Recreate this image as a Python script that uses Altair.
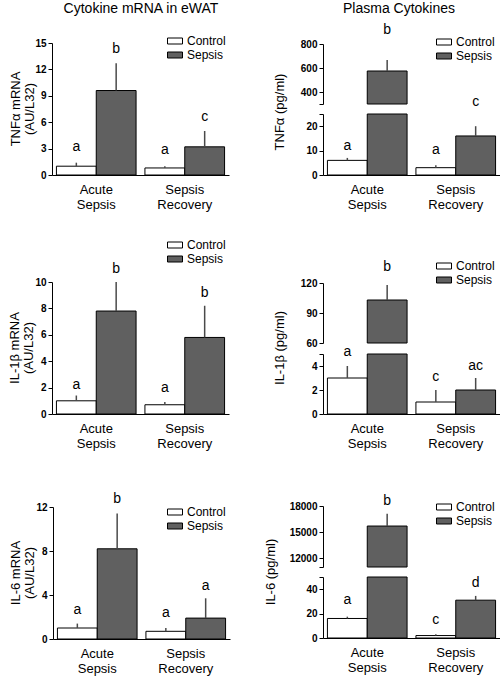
import altair as alt
import pandas as pd

FONT = "Liberation Sans"
SEPSIS_GREY = "#606060"
ERR_GREY = "#4a4a4a"
W, H = 500, 676

periods = ["Acute Sepsis", "Sepsis Recovery"]
groups = ["Control", "Sepsis"]

# bar order: Control/Acute, Sepsis/Acute, Control/Recovery, Sepsis/Recovery
bar_period = [periods[0], periods[0], periods[1], periods[1]]
bar_group = [groups[0], groups[1], groups[0], groups[1]]

# eWAT mRNA (AU/L32)
tnf_mrna_mean = [1.0, 9.6, 0.8, 3.2]
tnf_mrna_sem = [0.4, 3.1, 0.2, 1.8]
tnf_mrna_letters = ["a", "b", "a", "c"]
tnf_mrna_letter_y = [3.2, 14.3, 2.8, 6.6]

il1b_mrna_mean = [1.0, 7.8, 0.7, 5.8]
il1b_mrna_sem = [0.4, 2.2, 0.2, 2.4]
il1b_mrna_letters = ["a", "b", "a", "b"]
il1b_mrna_letter_y = [2.2, 11.0, 2.0, 9.2]

il6_mrna_mean = [1.0, 8.2, 0.7, 1.9]
il6_mrna_sem = [0.4, 3.2, 0.3, 1.8]
il6_mrna_letters = ["a", "b", "a", "a"]
il6_mrna_letter_y = [2.6, 12.7, 2.4, 4.8]

# plasma cytokines (pg/ml)
tnf_plasma_mean = [6.0, 575.0, 3.0, 16.0]
tnf_plasma_sem = [1.0, 92.0, 1.0, 4.0]
tnf_plasma_letters = ["a", "b", "a", "c"]
tnf_plasma_letter_y = [11.7, 920.0, 10.4, 30.0]

il1b_plasma_mean = [3.0, 103.0, 1.0, 2.0]
il1b_plasma_sem = [1.0, 15.0, 1.0, 1.0]
il1b_plasma_letters = ["a", "b", "c", "ac"]
il1b_plasma_letter_y = [5.2, 136.0, 3.1, 4.0]

il6_plasma_mean = [16.0, 15700.0, 2.0, 31.0]
il6_plasma_sem = [1.5, 1400.0, 1.0, 3.5]
il6_plasma_letters = ["a", "b", "c", "d"]
il6_plasma_letter_y = [31.0, 18580.0, 15.0, 45.0]

LEFT_X = [52, 229]
RIGHT_X = [323, 500]

panels = [
    dict(mean=tnf_mrna_mean, sem=tnf_mrna_sem, letters=tnf_mrna_letters, letter_y=tnf_mrna_letter_y,
         xr=LEFT_X, ytitle=["TNFα mRNA", "(AU/L32)"], ytitle_pos=(16, 109), legend=(169, 35),
         segments=[dict(domain=[0, 15], range=[175, 43], ticks=[0, 3, 6, 9, 12, 15], blank=[])]),
    dict(mean=tnf_plasma_mean, sem=tnf_plasma_sem, letters=tnf_plasma_letters, letter_y=tnf_plasma_letter_y,
         xr=RIGHT_X, ytitle="TNFα (pg/ml)", ytitle_pos=(280, 112), legend=(438, 36),
         segments=[dict(domain=[0, 25], range=[175, 114], ticks=[0, 10, 20, 25], blank=[25]),
                   dict(domain=[300, 800], range=[104, 44], ticks=[300, 400, 600, 800], blank=[300])]),
    dict(mean=il1b_mrna_mean, sem=il1b_mrna_sem, letters=il1b_mrna_letters, letter_y=il1b_mrna_letter_y,
         xr=LEFT_X, ytitle=["IL-1β mRNA", "(AU/L32)"], ytitle_pos=(15, 348), legend=(169, 239),
         segments=[dict(domain=[0, 10], range=[414, 282], ticks=[0, 2, 4, 6, 8, 10], blank=[])]),
    dict(mean=il1b_plasma_mean, sem=il1b_plasma_sem, letters=il1b_plasma_letters, letter_y=il1b_plasma_letter_y,
         xr=RIGHT_X, ytitle="IL-1β (pg/ml)", ytitle_pos=(280, 348), legend=(438, 260),
         segments=[dict(domain=[0, 5], range=[414, 354], ticks=[0, 2, 4, 5], blank=[5]),
                   dict(domain=[60, 120], range=[343, 283], ticks=[60, 90, 120], blank=[])]),
    dict(mean=il6_mrna_mean, sem=il6_mrna_sem, letters=il6_mrna_letters, letter_y=il6_mrna_letter_y,
         xr=[53, 230], ytitle=["IL-6 mRNA", "(AU/L32)"], ytitle_pos=(16, 573), legend=(169, 506),
         segments=[dict(domain=[0, 12], range=[639, 507], ticks=[0, 4, 8, 12], blank=[])]),
    dict(mean=il6_plasma_mean, sem=il6_plasma_sem, letters=il6_plasma_letters, letter_y=il6_plasma_letter_y,
         xr=RIGHT_X, ytitle="IL-6 (pg/ml)", ytitle_pos=(271, 572), legend=(438, 501),
         segments=[dict(domain=[0, 50], range=[638, 577], ticks=[0, 20, 40, 50], blank=[50]),
                   dict(domain=[11000, 18000], range=[567, 506], ticks=[11000, 12000, 15000, 18000], blank=[11000])]),
]

column_titles = [("Cytokine mRNA in eWAT", 141), ("Plasma Cytokines", 399)]


def x_channels(xr, axis):
    x = alt.X("period:N", sort=periods,
              scale=alt.Scale(domain=periods, range=list(xr), paddingInner=0.1, paddingOuter=0.05),
              axis=axis)
    xo = alt.XOffset("group:N", sort=groups,
                     scale=alt.Scale(type="band", domain=groups, paddingInner=0, paddingOuter=0))
    return x, xo


def y_scale(seg, clamp):
    return alt.Scale(domain=seg["domain"], range=seg["range"], clamp=clamp, nice=False, zero=False)


def y_axis(seg, axis_x):
    blank = seg["blank"]
    expr = "datum.label"
    if blank:
        expr = "indexof(%s, datum.value) >= 0 ? '' : datum.label" % str(blank)
    return alt.Axis(orient="left", offset=-axis_x, values=seg["ticks"], labelExpr=expr,
                    format="d", title=None, grid=False, domainColor="black", domainWidth=1,
                    tickColor="black", tickSize=4, tickWidth=1, labelFont=FONT, labelFontSize=10,
                    labelFontWeight="bold", labelColor="black", labelPadding=2,
                    labelOverlap=False, labelFlush=False)


def x_axis(y0):
    return alt.Axis(orient="bottom", offset=y0 - H, ticks=False, title=None,
                    labelExpr="split(datum.label, ' ')", labelAngle=0, labelFont=FONT,
                    labelFontSize=13, labelLineHeight=15, labelColor="black", labelPadding=8,
                    domainColor="black", domainWidth=1, grid=False)


layers = []

for p in panels:
    df = pd.DataFrame({"period": bar_period, "group": bar_group, "mean": p["mean"],
                       "sem": p["sem"], "letter": p["letters"], "letter_y": p["letter_y"]})
    broken = len(p["segments"]) > 1
    for i, seg in enumerate(p["segments"]):
        lower = i == 0
        lo, hi = seg["domain"]
        base = alt.Chart(df).transform_calculate(hi="datum.mean + datum.sem")
        if broken:
            keep = (alt.datum.mean <= hi) if lower else (alt.datum.mean > lo)
        else:
            keep = alt.datum.mean >= 0

        # bars (the lower segment carries the axes and the legend)
        xb, xo = x_channels(p["xr"], x_axis(seg["range"][0]) if lower else None)
        legend = None
        if lower:
            legend = alt.Legend(orient="none", legendX=p["legend"][0], legendY=p["legend"][1],
                                title=None, symbolType="M-1.5,-0.6H1.5V0.6H-1.5Z", symbolSize=100,
                                symbolStrokeColor="black", symbolStrokeWidth=1,
                                labelFont=FONT, labelFontSize=12, labelColor="black",
                                labelOffset=6, rowPadding=2, padding=0, direction="vertical")
        color = alt.Color("group:N", sort=groups,
                          scale=alt.Scale(domain=groups, range=["white", SEPSIS_GREY]),
                          legend=legend)
        bar_src = base if (lower or not broken) else base.transform_filter(keep)
        layers.append(
            bar_src.mark_bar(stroke="black", strokeWidth=1).encode(
                x=xb, xOffset=xo,
                y=alt.Y("mean:Q", scale=y_scale(seg, True), axis=y_axis(seg, p["xr"][0])),
                y2=alt.datum(0),
                color=color,
            )
        )

        # SEM whiskers
        xr_, xo_ = x_channels(p["xr"], None)
        layers.append(
            base.transform_filter(keep).mark_rule(color=ERR_GREY, strokeWidth=1.5).encode(
                x=xr_, xOffset=xo_,
                y=alt.Y("mean:Q", scale=y_scale(seg, True), axis=None),
                y2="hi:Q",
            )
        )

        # significance letters
        xl, xol = x_channels(p["xr"], None)
        layers.append(
            base.transform_filter(keep).mark_text(
                font=FONT, fontSize=14, color="black", baseline="middle", align="center"
            ).encode(
                x=xl, xOffset=xol,
                y=alt.Y("letter_y:Q", scale=y_scale(seg, False), axis=None),
                text="letter:N",
            )
        )

    # y-axis title
    tx, ty = p["ytitle_pos"]
    layers.append(
        alt.Chart(pd.DataFrame({"k": [0]})).mark_text(
            font=FONT, fontSize=13, angle=270, align="center", baseline="middle",
            lineHeight=14, color="black"
        ).encode(x=alt.value(tx), y=alt.value(ty), text=alt.value(p["ytitle"]))
    )

for text, cx in column_titles:
    layers.append(
        alt.Chart(pd.DataFrame({"k": [0]})).mark_text(
            font=FONT, fontSize=14, align="center", baseline="middle", color="black"
        ).encode(x=alt.value(cx), y=alt.value(9), text=alt.value(text))
    )

chart = alt.layer(*layers).resolve_scale(
    x="independent", y="independent", xOffset="independent", color="independent"
).properties(
    width=W, height=H, padding=0, autosize=alt.AutoSizeParams(type="none"),
    background="white",
).configure_view(strokeWidth=0)

chart.save("out.html", embed_options={"renderer": "svg", "actions": False})
